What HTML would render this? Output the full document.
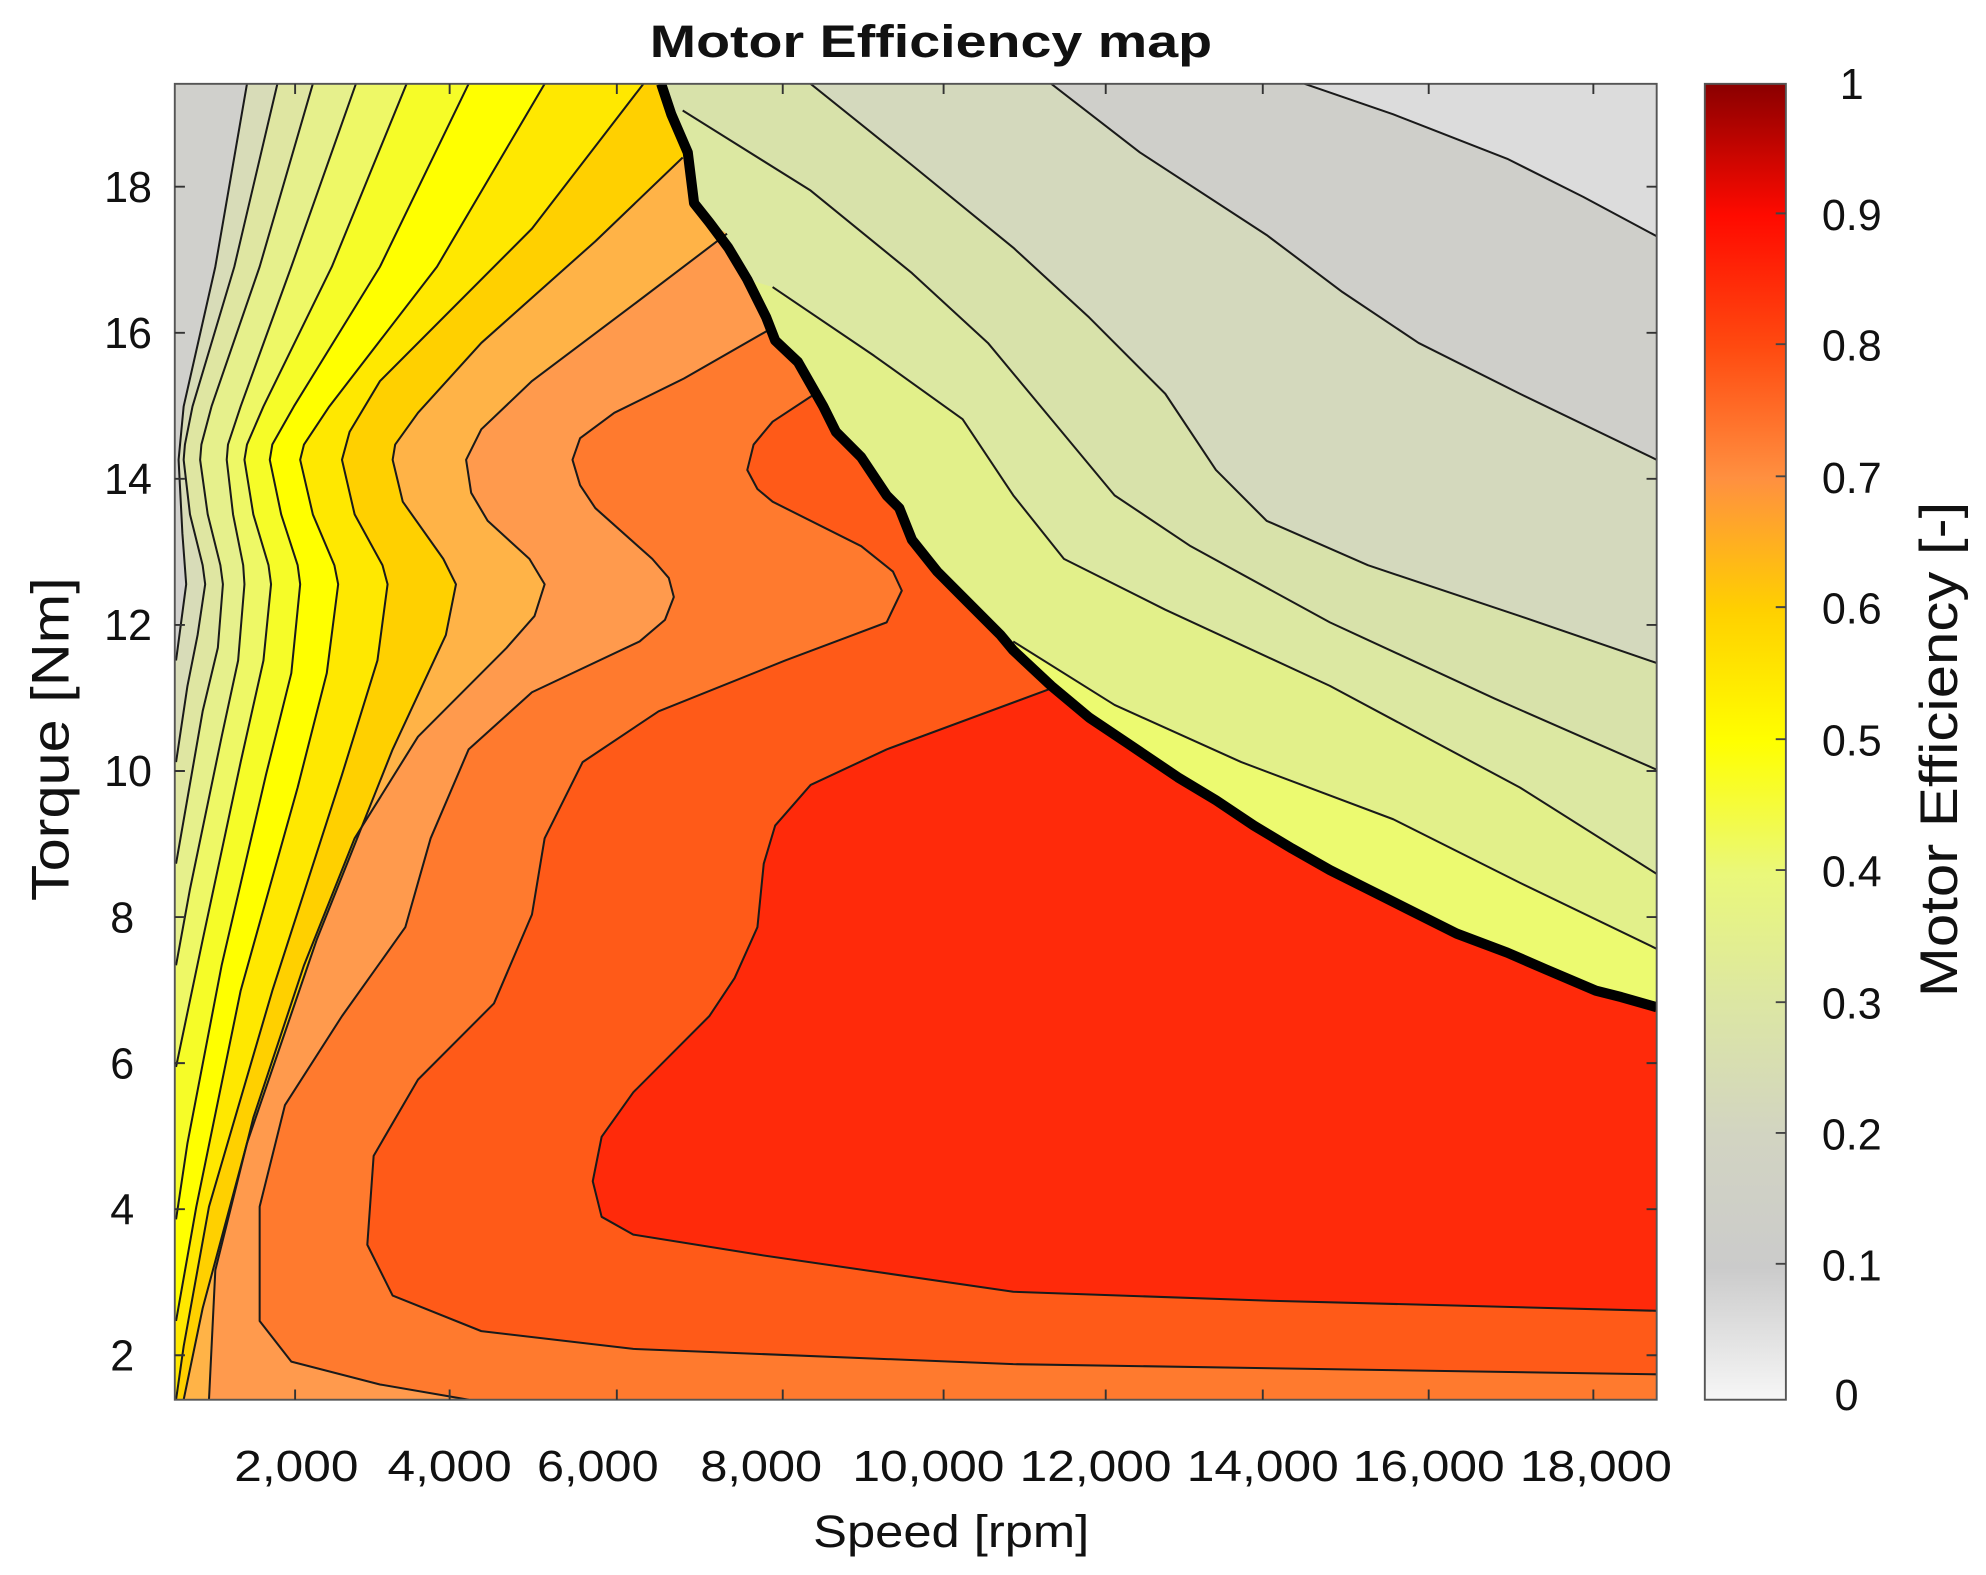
<!DOCTYPE html>
<html><head><meta charset="utf-8"><style>
html,body{margin:0;padding:0;background:#fff;}
svg{display:block;}
text{font-family:"Liberation Sans",sans-serif;fill:#111;}
</style></head><body>
<svg width="1986" height="1575" viewBox="0 0 1568 1240" preserveAspectRatio="none" xmlns="http://www.w3.org/2000/svg">
<defs>
<linearGradient id="cb" x1="0" y1="0" x2="0" y2="1">
<stop offset="0" stop-color="#8a0000"/>
<stop offset="0.1" stop-color="#ff0a00"/>
<stop offset="0.2" stop-color="#ff4a10"/>
<stop offset="0.3" stop-color="#ff9040"/>
<stop offset="0.4" stop-color="#ffd000"/>
<stop offset="0.5" stop-color="#ffff00"/>
<stop offset="0.6" stop-color="#eaf87a"/>
<stop offset="0.7" stop-color="#dce6a4"/>
<stop offset="0.8" stop-color="#d2d4c2"/>
<stop offset="0.9" stop-color="#cbcbcb"/>
<stop offset="1" stop-color="#f6f6f6"/>
</linearGradient>
<clipPath id="pc"><rect x="138" y="66" width="1170" height="1036"/></clipPath>
</defs>
<g clip-path="url(#pc)" stroke-linejoin="round">
<rect x="138" y="66" width="1170" height="1036" fill="#dcdcdc"/>
<polygon fill="#cfcfca" points="1030,66 1100,90 1190,125 1250,155 1308,186 1308,1102 138,1102 138,66"/>
<polygon fill="#d4d9bd" points="830,66 900,120 1000,185 1060,230 1120,270 1200,310 1308,362 1308,1102 138,1102 138,66"/>
<polygon fill="#d8e2aa" points="640,66 720,130 800,195 860,250 920,310 960,370 1000,410 1080,445 1200,485 1308,522 1308,1102 138,1102 138,66"/>
<polygon fill="#dce8a2" points="138,66 522,66 530,90 539,87 640,150 720,215 780,270 830,330 880,390 940,430 1050,490 1180,550 1308,606 1308,1102 138,1102"/>
<polygon fill="#e2f08a" points="138,66 522,66 530,90 543,120 548,160 560,175 575,195 590,220 610,226 690,280 760,330 800,390 840,440 920,480 1050,540 1200,620 1308,688 1308,1102 138,1102"/>
<polygon fill="#ecfa70" points="138,66 522,66 530,90 543,120 548,160 560,175 575,195 590,220 605,250 612,268 630,285 650,320 660,340 680,360 700,390 710,400 720,425 740,450 760,470 790,500 800,505 880,555 980,600 1100,645 1200,695 1308,747 1308,1102 138,1102"/>

<polygon fill="#ff7a2e" points="138,66 522,66 530,90 543,120 548,160 560,175 575,195 590,220 605,250 612,268 630,285 650,320 660,340 680,360 700,390 710,400 720,425 740,450 760,470 790,500 800,512 830,540 860,565 890,585 930,612 960,630 990,650 1020,668 1050,685 1080,700 1110,715 1150,735 1190,750 1220,763 1260,780 1280,785 1308,793 1308,1102 138,1102"/>

<polygon fill="#ff9a4d" points="610,258 540,298 485,325 458,345 452,362 458,382 470,400 515,440 528,455 532,470 525,488 505,505 420,545 370,590 340,660 320,730 270,800 225,870 205,950 205,1040 230,1072 300,1090 370,1102 138,1102 138,66 522,66 530,90 543,120 548,160 560,175 575,195 590,220 605,250"/>
<polygon fill="#ffb347" points="574,184 500,240 420,300 380,338 368,362 372,388 385,410 418,440 430,460 422,485 400,510 330,580 280,660 240,760 200,880 170,1000 165,1102 138,1102 138,66 522,66 530,90 543,120 548,160 560,175"/>
<polygon fill="#ffd000" points="539,124 470,190 380,270 330,325 312,350 310,362 318,395 350,440 360,460 352,500 310,590 250,740 195,900 160,1030 145,1102 138,1102 138,66 522,66 530,90 543,120"/>
<polygon fill="#ffe800" points="508,66 420,180 300,300 276,340 270,362 280,405 302,445 306,460 298,520 270,610 215,780 165,950 145,1060 139,1102 138,1102 138,66"/>
<polygon fill="#ffff00" points="430,66 345,210 260,320 240,350 237,362 247,405 264,445 267,460 258,530 235,620 190,780 155,950 139,1040 138,1040 138,66"/>
<polygon fill="#f6fc28" points="370,66 300,210 232,320 215,350 213,362 222,405 235,445 237,460 230,530 210,610 175,760 148,900 139,960 138,960 138,66"/>
<polygon fill="#eef866" points="321,66 262,210 208,320 195,350 193,362 200,405 212,445 214,460 208,520 190,600 160,740 139,840 138,840 138,66"/>
<polygon fill="#e6f08c" points="281,66 230,210 190,320 180,350 179,362 184,405 192,445 193,460 188,520 175,580 150,700 139,760 138,760 138,66"/>
<polygon fill="#dfe6a2" points="247,66 205,210 167,320 159,350 158,362 164,405 174,445 176,460 172,510 160,560 139,680 138,680 138,66"/>
<polygon fill="#d8dcb8" points="219,66 185,210 152,320 146,350 145,362 150,405 160,445 162,460 156,500 148,540 139,600 138,600 138,66"/>
<polygon fill="#d0d0cc" points="195,66 170,210 145,320 141,362 144,420 147,460 139,520 138,520 138,66"/>

<polygon fill="#ff5a18" points="645,309 610,332 595,350 590,370 598,385 610,395 680,430 705,450 712,465 700,490 620,520 520,560 460,600 430,660 420,720 390,790 330,850 295,910 290,980 310,1020 380,1048 500,1062 800,1074 1308,1082 1308,793 1280,785 1260,780 1220,763 1190,750 1150,735 1110,715 1080,700 1050,685 1020,668 990,650 960,630 930,612 890,585 860,565 830,540 800,512 790,500 760,470 740,450 720,425 710,400 700,390 680,360 660,340 650,320"/>
<polygon fill="#ff2a0a" points="830,542 700,590 640,618 612,650 603,680 598,730 580,770 560,800 500,860 475,895 468,930 475,958 500,972 600,988 800,1017 1000,1024 1308,1032 1308,793 1280,785 1260,780 1220,763 1190,750 1150,735 1110,715 1080,700 1050,685 1020,668 990,650 960,630 930,612 890,585 860,565"/>

<g fill="none" stroke="#1a1a1a" stroke-width="1.6">
<polyline points="1030,66 1100,90 1190,125 1250,155 1308,186"/>
<polyline points="830,66 900,120 1000,185 1060,230 1120,270 1200,310 1308,362"/>
<polyline points="640,66 720,130 800,195 860,250 920,310 960,370 1000,410 1080,445 1200,485 1308,522"/>
<polyline points="539,87 640,150 720,215 780,270 830,330 880,390 940,430 1050,490 1180,550 1308,606"/>
<polyline points="610,226 690,280 760,330 800,390 840,440 920,480 1050,540 1200,620 1308,688"/>
<polyline points="800,505 880,555 980,600 1100,645 1200,695 1308,747"/>
<polyline points="610,258 540,298 485,325 458,345 452,362 458,382 470,400 515,440 528,455 532,470 525,488 505,505 420,545 370,590 340,660 320,730 270,800 225,870 205,950 205,1040 230,1072 300,1090 370,1102"/>
<polyline points="574,184 500,240 420,300 380,338 368,362 372,388 385,410 418,440 430,460 422,485 400,510 330,580 280,660 240,760 200,880 170,1000 165,1102"/>
<polyline points="539,124 470,190 380,270 330,325 312,350 310,362 318,395 350,440 360,460 352,500 310,590 250,740 195,900 160,1030 145,1102"/>
<polyline points="508,66 420,180 300,300 276,340 270,362 280,405 302,445 306,460 298,520 270,610 215,780 165,950 145,1060 139,1102"/>
<polyline points="430,66 345,210 260,320 240,350 237,362 247,405 264,445 267,460 258,530 235,620 190,780 155,950 139,1040"/>
<polyline points="370,66 300,210 232,320 215,350 213,362 222,405 235,445 237,460 230,530 210,610 175,760 148,900 139,960"/>
<polyline points="321,66 262,210 208,320 195,350 193,362 200,405 212,445 214,460 208,520 190,600 160,740 139,840"/>
<polyline points="281,66 230,210 190,320 180,350 179,362 184,405 192,445 193,460 188,520 175,580 150,700 139,760"/>
<polyline points="247,66 205,210 167,320 159,350 158,362 164,405 174,445 176,460 172,510 160,560 139,680"/>
<polyline points="219,66 185,210 152,320 146,350 145,362 150,405 160,445 162,460 156,500 148,540 139,600"/>
<polyline points="195,66 170,210 145,320 141,362 144,420 147,460 139,520"/>
<polyline points="645,309 610,332 595,350 590,370 598,385 610,395 680,430 705,450 712,465 700,490 620,520 520,560 460,600 430,660 420,720 390,790 330,850 295,910 290,980 310,1020 380,1048 500,1062 800,1074 1308,1082"/>
<polyline points="830,542 700,590 640,618 612,650 603,680 598,730 580,770 560,800 500,860 475,895 468,930 475,958 500,972 600,988 800,1017 1000,1024 1308,1032"/>
</g>
<polyline fill="none" stroke="#000" stroke-width="8" points="522,66 530,90 543,120 548,160 560,175 575,195 590,220 605,250 612,268 630,285 650,320 660,340 680,360 700,390 710,400 720,425 740,450 760,470 790,500 800,512 830,540 860,565 890,585 930,612 960,630 990,650 1020,668 1050,685 1080,700 1110,715 1150,735 1190,750 1220,763 1260,780 1280,785 1308,793"/>
</g>
<rect x="138" y="66" width="1170" height="1036" fill="none" stroke="#555" stroke-width="1.5"/>
<g stroke="#333" stroke-width="1.5">
<path d="M138,147h8M138,262h8M138,377h8M138,492h8M138,607h8M138,722h8M138,837h8M138,952h8M138,1067h8M1300,147h8M1300,262h8M1300,377h8M1300,492h8M1300,607h8M1300,722h8M1300,837h8M1300,952h8M1300,1067h8"/>
<path d="M233,66v8M355,66v8M487,66v8M618,66v8M745,66v8M873,66v8M997,66v8M1128,66v8M1258,66v8M233,1094v8M355,1094v8M487,1094v8M618,1094v8M745,1094v8M873,1094v8M997,1094v8M1128,1094v8M1258,1094v8"/>
</g>
<rect x="1346" y="66" width="64" height="1036" fill="url(#cb)" stroke="#555" stroke-width="1.5"/>

<text x="735" y="45" font-size="36" font-weight="bold" text-anchor="middle" textLength="444" lengthAdjust="spacingAndGlyphs">Motor Efficiency map</text>

<g font-size="34" text-anchor="end">
<text x="120" y="159">18</text>
<text x="120" y="274">16</text>
<text x="120" y="389">14</text>
<text x="120" y="504">12</text>
<text x="120" y="619">10</text>
<text x="106" y="734">8</text>
<text x="106" y="849">6</text>
<text x="106" y="964">4</text>
<text x="106" y="1079">2</text>
</g>
<g font-size="34" text-anchor="middle">
<text x="234" y="1166" textLength="98" lengthAdjust="spacingAndGlyphs">2,000</text>
<text x="355" y="1166" textLength="98" lengthAdjust="spacingAndGlyphs">4,000</text>
<text x="472" y="1166" textLength="96" lengthAdjust="spacingAndGlyphs">6,000</text>
<text x="601" y="1166" textLength="96" lengthAdjust="spacingAndGlyphs">8,000</text>
<text x="733" y="1166" textLength="120" lengthAdjust="spacingAndGlyphs">10,000</text>
<text x="865" y="1166" textLength="120" lengthAdjust="spacingAndGlyphs">12,000</text>
<text x="997" y="1166" textLength="120" lengthAdjust="spacingAndGlyphs">14,000</text>
<text x="1128" y="1166" textLength="120" lengthAdjust="spacingAndGlyphs">16,000</text>
<text x="1260" y="1166" textLength="120" lengthAdjust="spacingAndGlyphs">18,000</text>
</g>
<text x="751" y="1218" font-size="36" text-anchor="middle" textLength="218" lengthAdjust="spacingAndGlyphs">Speed [rpm]</text>
<text transform="translate(54,582) rotate(-90)" font-size="42" text-anchor="middle" textLength="255" lengthAdjust="spacingAndGlyphs">Torque [Nm]</text>
<text transform="translate(1545,590) rotate(-90)" font-size="42" text-anchor="middle" textLength="390" lengthAdjust="spacingAndGlyphs">Motor Efficiency [-]</text>
<g font-size="34" text-anchor="middle">
<text x="1462" y="78">1</text>
<text x="1462" y="181">0.9</text>
<text x="1462" y="284">0.8</text>
<text x="1462" y="388">0.7</text>
<text x="1462" y="491">0.6</text>
<text x="1462" y="595">0.5</text>
<text x="1462" y="698">0.4</text>
<text x="1462" y="802">0.3</text>
<text x="1462" y="905">0.2</text>
<text x="1462" y="1008">0.1</text>
<text x="1458" y="1110">0</text>
</g>
<path stroke="#444" stroke-width="1.5" d="M1402,168h8M1402,271h8M1402,375h8M1402,478h8M1402,582h8M1402,685h8M1402,789h8M1402,892h8M1402,995h8"/>
</svg>
</body></html>
